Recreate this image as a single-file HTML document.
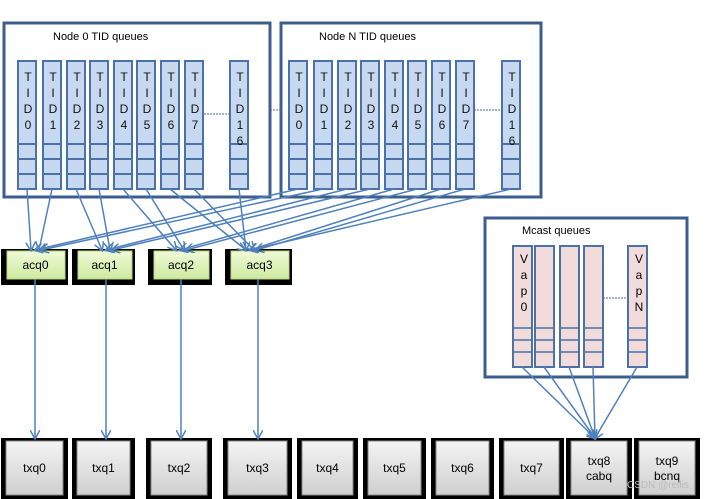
<!DOCTYPE html>
<html><head><meta charset="utf-8"><style>
html,body{margin:0;padding:0;background:#fff;}
svg{display:block;font-family:"Liberation Sans",sans-serif;}
</style></head><body>
<svg width="706" height="499" viewBox="0 0 706 499" xmlns="http://www.w3.org/2000/svg">
<defs>
<marker id="ar" markerWidth="10" markerHeight="10" refX="8" refY="5" orient="auto" markerUnits="userSpaceOnUse">
<path d="M0,0 L9,5 L0,10" fill="none" stroke="#4f81bd" stroke-width="1.5"/></marker>
<linearGradient id="gg" x1="0" y1="0" x2="0" y2="1"><stop offset="0" stop-color="#f4f4f4"/><stop offset="1" stop-color="#cfcfcf"/></linearGradient>
<linearGradient id="gr" x1="0" y1="0" x2="0" y2="1"><stop offset="0" stop-color="#f0fad8"/><stop offset="1" stop-color="#cdeaa0"/></linearGradient>
</defs>
<rect x="4" y="23" width="266" height="174" fill="#fff" stroke="#3b5e8c" stroke-width="3"/>
<rect x="281" y="23" width="260" height="174" fill="#fff" stroke="#3b5e8c" stroke-width="3"/>
<text x="53" y="40" font-size="11">Node 0 TID queues</text>
<text x="319" y="40" font-size="11">Node N TID queues</text>
<g id="cols" fill="#c6d9f1" stroke="#4a72a8" stroke-width="2" font-size="12" text-anchor="middle">
</g>
<rect x="485" y="218" width="202" height="159" fill="#fff" stroke="#3b5e8c" stroke-width="3"/>
<text x="522" y="234" font-size="11">Mcast queues</text>
<g id="m"></g>
<g id="q"></g>
<g id="lines" stroke="#4f81bd" stroke-width="1.5" fill="none"></g>
<text id="wm" x="627" y="488" font-size="10" fill="#bbb">CSDN @rellis</text>
</svg>
<script>
const NS="http://www.w3.org/2000/svg";
function el(p,t,a,txt){const e=document.createElementNS(NS,t);for(const k in a)e.setAttribute(k,a[k]);if(txt!==undefined)e.textContent=txt;p.appendChild(e);return e;}
const cols=document.getElementById('cols'),L=document.getElementById('lines'),Q=document.getElementById('q'),M=document.getElementById('m');
const n0=[18,43,67,90,114,137,161,185,230], nN=[289,314,338,361,385,408,432,456,502];
const labs=['0','1','2','3','4','5','6','7','16'];
const acqT=[35,106,180,250];
function col(x,i){
 el(cols,'rect',{x:x,y:61,width:18,height:128});
 [144,159,174].forEach(y=>el(cols,'line',{x1:x,y1:y,x2:x+18,y2:y}));
 const chars=['T','I','D'].concat(labs[i].split(''));
 chars.forEach((c,j)=>el(cols,'text',{x:x+10,y:81+j*16,fill:'#111',stroke:'none'},c));
}
n0.forEach(col);nN.forEach(col);
el(cols,'line',{x1:204,y1:114,x2:230,y2:114,'stroke-dasharray':'2,1','stroke-width':1});
el(cols,'line',{x1:474,y1:110,x2:502,y2:110,'stroke-dasharray':'2,1','stroke-width':1});
el(cols,'line',{x1:270,y1:110,x2:281,y2:110,'stroke-dasharray':'2,1','stroke-width':1});
const tgt=[0,0,1,1,2,2,3,3,3];
n0.forEach((x,i)=>el(L,'line',{x1:x+9,y1:189,x2:acqT[tgt[i]]+(i%2?4:-4),y2:250,'marker-end':'url(#ar)'}));
nN.forEach((x,i)=>el(L,'line',{x1:x+9,y1:189,x2:acqT[tgt[i]]+(i%2?6:0),y2:250,'marker-end':'url(#ar)'}));
const mc=[513,535,560,584,628];
mc.forEach((x,i)=>{el(M,'rect',{x:x,y:246,width:19,height:121,fill:'#f2dcdb',stroke:'#4a72a8','stroke-width':2});
 [328,340,352].forEach(y=>el(M,'line',{x1:x,y1:y,x2:x+19,y2:y,stroke:'#4a72a8','stroke-width':1.5}));
 el(L,'line',{x1:x+9,y1:367,x2:595,y2:438,'marker-end':'url(#ar)'});});
['V','a','p','0'].forEach((c,j)=>el(M,'text',{x:524,y:263+j*16,'font-size':12,'text-anchor':'middle'},c));
['V','a','p','N'].forEach((c,j)=>el(M,'text',{x:639,y:263+j*16,'font-size':12,'text-anchor':'middle'},c));
el(M,'line',{x1:603,y1:298,x2:628,y2:298,stroke:'#4a72a8','stroke-dasharray':'2,1'});
const acq=[[1,68],[72,135],[148,212],[225,292]];
acq.forEach(([a,b],i)=>{el(Q,'rect',{x:a,y:249,width:b-a,height:36,fill:'#000'});
 el(Q,'rect',{x:a+6,y:251,width:b-a-9,height:28,fill:'url(#gr)',stroke:'#b7d97a'});
 el(Q,'text',{x:(a+b)/2+1,y:269,'font-size':12,'text-anchor':'middle'},'acq'+i);
 const cx=[35,106,181,258][i];
 el(L,'line',{x1:cx,y1:279,x2:cx,y2:438,'marker-end':'url(#ar)'});});
const tx=[[1,68],[72,135],[146,212],[223,292],[297,358],[363,426],[431,494],[499,564],[566,632],[634,700]];
tx.forEach(([a,b],i)=>{el(Q,'rect',{x:a,y:438,width:b-a,height:61,fill:'#000'});
 el(Q,'rect',{x:a+5,y:441,width:b-a-10,height:54,fill:'url(#gg)',stroke:'#888'});
 const cx=(a+b)/2;
 if(i==8){el(Q,'text',{x:cx,y:465,'font-size':12,'text-anchor':'middle'},'txq8');el(Q,'text',{x:cx,y:480,'font-size':12,'text-anchor':'middle'},'cabq');}
 else if(i==9){el(Q,'text',{x:cx,y:465,'font-size':12,'text-anchor':'middle'},'txq9');el(Q,'text',{x:cx,y:480,'font-size':12,'text-anchor':'middle'},'bcnq');}
 else el(Q,'text',{x:cx,y:472,'font-size':12,'text-anchor':'middle'},'txq'+i);});
</script>
</body></html>
